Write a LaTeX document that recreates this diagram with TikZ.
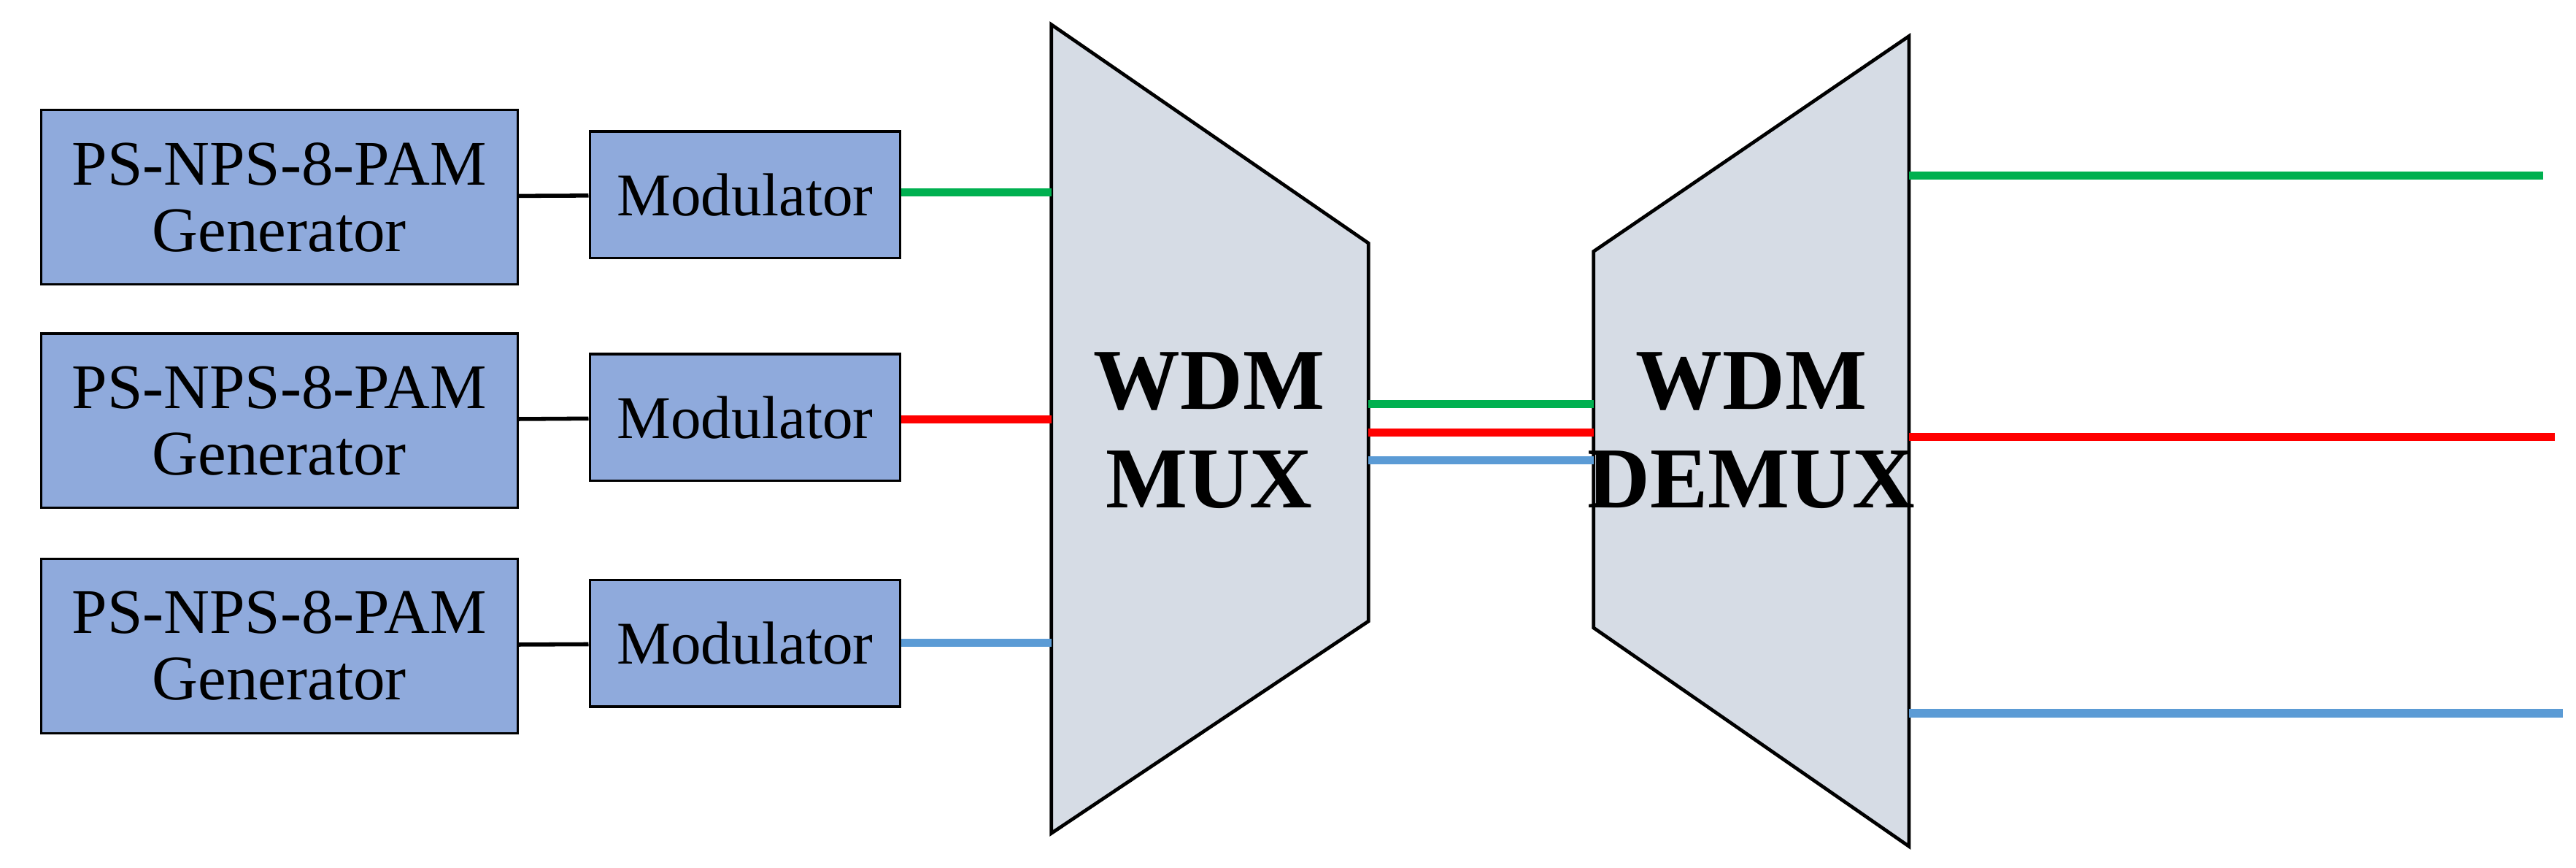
\documentclass[tikz,border=0pt]{standalone}
\usepackage{fontspec}
\setmainfont{Liberation Serif}
\usepackage[x11names, rgb]{xcolor}
\usetikzlibrary{shapes}
\definecolor{boxblue}{RGB}{143,170,220}
\definecolor{wdmgray}{RGB}{214,220,229}
\definecolor{lgreen}{RGB}{0,176,80}
\definecolor{lred}{RGB}{255,0,0}
\definecolor{lblue}{RGB}{91,155,213}
\tikzset{
  gen/.style={draw, fill=boxblue, minimum width=2.9cm, minimum height=1.06cm,
    inner sep=0pt, align=center, font=\fontsize{11}{11.5}\selectfont},
  mod/.style={draw, fill=boxblue, minimum width=1.89cm, minimum height=0.77cm,
    inner sep=0pt, font=\fontsize{10.5}{12}\selectfont},
  wdm/.style={draw, fill=wdmgray, line width=0.6pt},
  fib/.style={line width=1.4pt},
  blk/.style={line width=0.7pt}
}
\begin{document}
\begin{tikzpicture}[x=0.01cm,y=-0.01cm]
    \useasboundingbox (0,0) rectangle (1568,528);
    % multiplexer and demultiplexer
    \draw[wdm] (640,15) -- (833,148) -- (833,378) -- (640,507) -- cycle;
    \draw[wdm] (970,153) -- (1162,22) -- (1162,515) -- (970,382) -- cycle;
    \node[font=\fontsize{15}{17}\selectfont\bfseries, align=center] (mux) at (736,262) {WDM\\MUX};
    \node[font=\fontsize{15}{17}\selectfont\bfseries, align=center] (demux) at (1066,262) {WDM\\DEMUX};
    % transmitters
    \node[gen] (g1) at (170,120) {PS-NPS-8-PAM\\Generator};
    \node[gen] (g2) at (170,256) {PS-NPS-8-PAM\\Generator};
    \node[gen] (g3) at (170,393) {PS-NPS-8-PAM\\Generator};
    \node[mod] (m1) at (453.5,118.5) {Modulator};
    \node[mod] (m2) at (453.5,254) {Modulator};
    \node[mod] (m3) at (453.5,391.5) {Modulator};
    \draw[blk] (g1) -- (m1);
    \draw[blk] (g2) -- (m2);
    \draw[blk] (g3) -- (m3);
    % fibres into the mux
    \coordinate (i1) at (640,117);
    \coordinate (i2) at (640,255);
    \coordinate (i3) at (640,391);
    \draw[fib, lgreen] (m1.east |- i1) -- (i1);
    \draw[fib, lred] (m2.east |- i2) -- (i2);
    \draw[fib, lblue] (m3.east |- i3) -- (i3);
    % link
    \coordinate (a1) at (833,246); \coordinate (b1) at (970,246);
    \coordinate (a2) at (833,263); \coordinate (b2) at (970,263);
    \coordinate (a3) at (833,280); \coordinate (b3) at (970,280);
    \draw[fib, lgreen] (a1) -- (b1);
    \draw[fib, lred] (a2) -- (b2);
    \draw[fib, lblue] (a3) -- (b3);
    % outputs
    \coordinate (o1) at (1162,107); \coordinate (e1) at (1548,107);
    \coordinate (o2) at (1162,266); \coordinate (e2) at (1555,266);
    \coordinate (o3) at (1162,434); \coordinate (e3) at (1560,434);
    \draw[fib, lgreen] (o1) -- (e1);
    \draw[fib, lred] (o2) -- (e2);
    \draw[fib, lblue] (o3) -- (e3);
\end{tikzpicture}
\end{document}
